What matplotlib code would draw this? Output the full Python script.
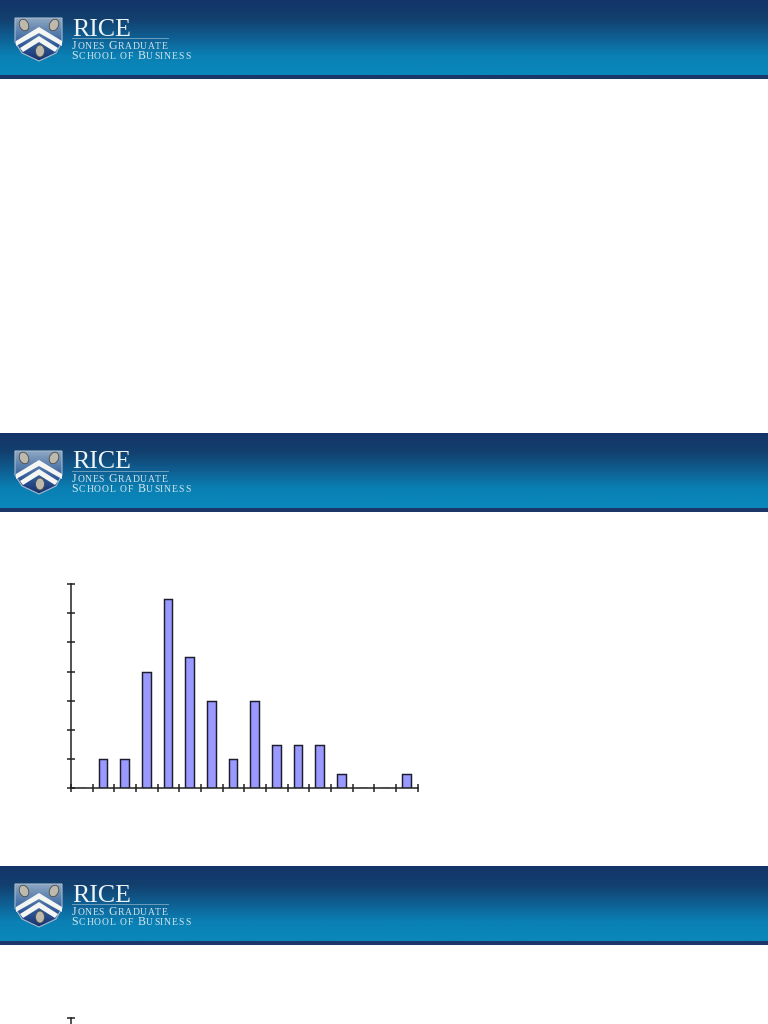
import numpy as np
import matplotlib
matplotlib.use("Agg")
from matplotlib import pyplot as plt
from matplotlib.colors import LinearSegmentedColormap
from matplotlib.patches import Polygon, Ellipse

# histogram values, one per bin
bins = np.arange(1, 17)
counts = [0, 2, 2, 8, 13, 9, 6, 2, 6, 3, 3, 3, 1, 0, 0, 1]
y_ticks = [0, 2, 4, 6, 8, 10, 12, 14]

banner_tops = [0, 433, 866]
banner_line1 = "Jones Graduate"
banner_line2 = "School of Business"

W, H = 768, 1024
fig = plt.figure(figsize=(W / 100, H / 100), dpi=100, facecolor="white")
renderer = fig.canvas.get_renderer()

# overlay in pixel coordinates for the slide banners
bg = fig.add_axes([0, 0, 1, 1])
bg.set_xlim(0, W)
bg.set_ylim(H, 0)
bg.axis("off")

cmap = LinearSegmentedColormap.from_list(
    "banner", ["#143468", "#12406f", "#0f5f92", "#0a80b4", "#0a88bc"])
shield_cmap = LinearSegmentedColormap.from_list(
    "shield", ["#8ea6c2", "#5a7fae", "#2c5596", "#16306e"])
grad = np.linspace(0, 1, 80).reshape(-1, 1)


def small_caps(x, y, s, track):
    # capitals bigger, the rest upper case and smaller, with a little tracking
    for ch in s:
        size = 8.6 if ch.isupper() else 6.9
        t = bg.text(x, y, ch.upper(), family="Liberation Serif", fontsize=size,
                    color="#d6e6ef", va="baseline", ha="left", zorder=6)
        if ch == " ":
            x += 3.6
        else:
            x += t.get_window_extent(renderer).width + track


def draw_banner(top):
    bg.imshow(grad, cmap=cmap, aspect="auto", extent=[0, W, top + 75, top], zorder=1)
    bg.fill_between([0, W], top + 75, top + 78.5, color="#1b3668", lw=0, zorder=2)

    # shield with its own gradient
    shield = [(15, 18), (62, 18), (62, 42), (56, 53), (39, 61), (22, 53), (15, 42)]
    patch = Polygon([(x, y + top) for x, y in shield], closed=True,
                    fc="none", ec="#a9bccd", lw=0.8, zorder=4)
    bg.add_patch(patch)
    im = bg.imshow(grad, cmap=shield_cmap, aspect="auto",
                   extent=[15, 62, top + 61, top + 18], zorder=3)
    im.set_clip_path(patch)

    # chevrons
    upper = [(16, 41), (39, 27), (62, 41), (62, 46), (39, 33), (16, 46)]
    lower = [(20, 48), (39, 36), (58, 48), (55, 52), (39, 42), (23, 52)]
    for pts in [upper, lower]:
        bg.add_patch(Polygon([(x, y + top) for x, y in pts], closed=True,
                             fc="#f4f6f4", ec="none", zorder=5))
    # owls
    for cx, cy, ang in [(24, 25, -25), (54, 25, 25), (40, 51, 0)]:
        bg.add_patch(Ellipse((cx, cy + top), 9, 12, angle=ang, fc="#bdb9ac",
                             ec="#4a4a48", lw=0.6, zorder=6))

    bg.text(72, top + 35.5, "RICE", family="Liberation Serif", fontsize=18.6,
            color="#eef3f6", va="baseline", ha="left", zorder=6)
    bg.plot([72, 168], [top + 37.5, top + 37.5], color="#6f9dbc", lw=0.7, zorder=6)
    small_caps(72, top + 49, banner_line1, 0.65)
    small_caps(71.5, top + 59, banner_line2, 0.85)


for t in banner_tops:
    draw_banner(t)
bg.set_xlim(0, W)
bg.set_ylim(H, 0)


def style_axis(ax):
    ax.set_xlim(0.5, 16.5)
    ax.set_ylim(0, 14)
    ax.patch.set_alpha(0)
    ax.spines["top"].set_visible(False)
    ax.spines["right"].set_visible(False)
    for s in ["left", "bottom"]:
        ax.spines[s].set_color("#222222")
        ax.spines[s].set_linewidth(1.1)
    ax.set_xticks(np.arange(0.5, 17))
    ax.set_yticks(y_ticks)
    ax.tick_params(direction="inout", length=5.5, width=1.1, color="#222222",
                   labelbottom=False, labelleft=False)


# main histogram, pixel box left 71 right 417.5 top 584 bottom 788.3
ax = fig.add_axes([71 / W, 1 - 788.3 / H, 346.5 / W, 204.3 / H])
ax.bar(bins - 0.02, counts, width=0.41, color="#9999ff", edgecolor="#1c1c2c", linewidth=1.05)
style_axis(ax)

# next slide's chart, only the top of its axis is on the page
ax3 = fig.add_axes([71 / W, 1 - (1017.5 + 204.3) / H, 346.5 / W, 204.3 / H])
style_axis(ax3)

fig.savefig("out.png", dpi=100)
